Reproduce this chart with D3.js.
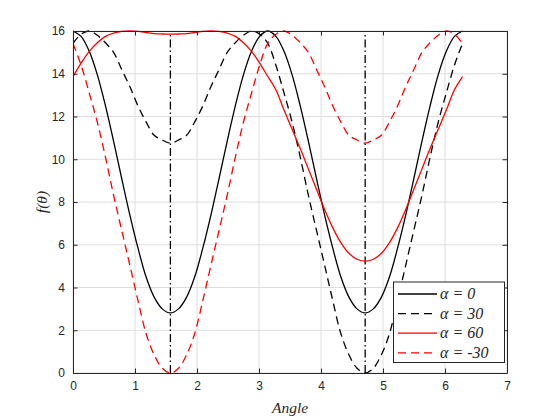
<!DOCTYPE html>
<html>
<head>
<meta charset="utf-8">
<script src="https://cdn.jsdelivr.net/npm/d3@7"></script>
<style>
  body { margin: 0; background: #fff; }
  svg { display: block; }
</style>
</head>
<body>
<svg id="fig" width="560" height="420"></svg>
<script>
// sample angles (rad), pi/24 steps from 0 to 2*pi
var angle = [0, 0.1309, 0.2618, 0.3927, 0.5236, 0.6545, 0.7854, 0.9163, 1.0472, 1.1781, 1.3090, 1.4399,
    1.5708, 1.7017, 1.8326, 1.9635, 2.0944, 2.2253, 2.3562, 2.4871, 2.6180, 2.7489, 2.8798, 3.0107,
    3.1416, 3.2725, 3.4034, 3.5343, 3.6652, 3.7961, 3.9270, 4.0579, 4.1888, 4.3197, 4.4506, 4.5815,
    4.7124, 4.8433, 4.9742, 5.1051, 5.2360, 5.3669, 5.4978, 5.6287, 5.7596, 5.8905, 6.0214, 6.1523, 6.2832];

// f(theta), one array per alpha
var alpha0 = [16, 15.75, 15.05, 13.95, 12.5, 10.85, 9.1, 7.4, 5.85, 4.5, 3.55, 3.0,
    2.81, 3.0, 3.55, 4.5, 5.85, 7.4, 9.1, 10.85, 12.5, 13.95, 15.05, 15.75,
    16, 15.75, 15.05, 13.95, 12.5, 10.85, 9.1, 7.4, 5.85, 4.5, 3.55, 3.0,
    2.81, 3.0, 3.55, 4.5, 5.85, 7.4, 9.1, 10.85, 12.5, 13.95, 15.05, 15.75, 16];

var alpha30 = [15.42, 15.85, 16.0, 15.8, 15.45, 15.0, 14.2, 13.4, 12.5, 11.75, 11.12, 10.9,
    10.75, 10.9, 11.12, 11.75, 12.5, 13.4, 14.2, 15.0, 15.45, 15.8, 16.0, 15.85,
    15.42, 14.4, 13.1, 11.73, 10.1, 8.32, 6.68, 5.05, 3.4, 1.85, 0.85, 0.22,
    0, 0.22, 0.85, 1.85, 3.4, 5.05, 6.68, 8.32, 10.1, 11.73, 13.1, 14.4, 15.42];

var alpha60 = [13.87, 14.5, 15.05, 15.45, 15.75, 15.9, 15.98, 16, 15.98, 15.93, 15.88, 15.86,
    15.85, 15.86, 15.88, 15.93, 15.98, 16, 15.98, 15.9, 15.75, 15.45, 15.05, 14.5,
    13.87, 13.25, 12.3, 11.4, 10.5, 9.55, 8.6, 7.65, 6.8, 6.1, 5.6, 5.32,
    5.23, 5.32, 5.6, 6.1, 6.8, 7.65, 8.6, 9.55, 10.5, 11.4, 12.3, 13.25, 13.87];

var alphaM30 = [15.42, 14.4, 13.1, 11.73, 10.1, 8.32, 6.68, 5.05, 3.4, 1.85, 0.85, 0.22,
    0, 0.22, 0.85, 1.85, 3.4, 5.05, 6.68, 8.32, 10.1, 11.73, 13.1, 14.4,
    15.42, 15.85, 16.0, 15.8, 15.45, 15.0, 14.2, 13.4, 12.5, 11.75, 11.12, 10.9,
    10.75, 10.9, 11.12, 11.75, 12.5, 13.4, 14.2, 15.0, 15.45, 15.8, 16.0, 15.85, 15.42];

var seriesNames = ['\u03b1 = 0', '\u03b1 = 30', '\u03b1 = 60', '\u03b1 = -30'];
var seriesValues = [alpha0, alpha30, alpha60, alphaM30];
var seriesColors = ['#000000', '#000000', '#ff0000', '#ff0000'];
var seriesDash = [null, '8,5', null, '8,5'];

// vertical dash-dot markers at pi/2 and 3*pi/2
var markerX = [1.5708, 4.7124];

var xTicks = [0, 1, 2, 3, 4, 5, 6, 7];
var yTicks = [0, 2, 4, 6, 8, 10, 12, 14, 16];

// plot box in pixels (note: "top" is taken by window.top)
var plotLeft = 73, plotRight = 507, plotTop = 31, plotBottom = 373;
var axisColor = '#262626';
var serif = '"Liberation Serif", "Times New Roman", serif';
var sans = '"Liberation Sans", Arial, Helvetica, sans-serif';

var svg = d3.select('#fig');

var x = d3.scaleLinear().domain([0, 7]).range([plotLeft, plotRight]);
var y = d3.scaleLinear().domain([0, 16]).range([plotBottom, plotTop]);

svg.append('rect')
    .attr('x', 0).attr('y', 0)
    .attr('width', 560).attr('height', 420)
    .attr('fill', '#fff');

// grid
var grid = svg.append('g').attr('stroke', '#dedede').attr('stroke-width', 1);
xTicks.forEach(function(t){
    grid.append('line')
        .attr('x1', x(t)).attr('x2', x(t))
        .attr('y1', plotTop).attr('y2', plotBottom);
});
yTicks.forEach(function(t){
    grid.append('line')
        .attr('x1', plotLeft).attr('x2', plotRight)
        .attr('y1', y(t)).attr('y2', y(t));
});

svg.append('clipPath').attr('id', 'plotClip')
    .append('rect')
    .attr('x', plotLeft).attr('y', plotTop - 1)
    .attr('width', plotRight - plotLeft).attr('height', plotBottom - plotTop + 2);

var plot = svg.append('g').attr('clip-path', 'url(#plotClip)');

// dash-dot lines
markerX.forEach(function(m){
    plot.append('line')
        .attr('x1', x(m)).attr('x2', x(m))
        .attr('y1', y(0)).attr('y2', y(16))
        .attr('stroke', '#000')
        .attr('stroke-width', 1.3)
        .attr('stroke-dasharray', '8,3,1.5,3');
});

var line = d3.line()
    .x(function(d){ return x(d[0]); })
    .y(function(d){ return y(d[1]); })
    .curve(d3.curveCatmullRom.alpha(0.5));

seriesValues.forEach(function(vals, i){
    var pts = angle.map(function(a, k){ return [a, vals[k]]; });
    plot.append('path')
        .datum(pts)
        .attr('d', line)
        .attr('fill', 'none')
        .attr('stroke', seriesColors[i])
        .attr('stroke-width', 1.3)
        .attr('stroke-dasharray', seriesDash[i]);
});

// axes, ticks pointing inward on all four sides
var fmt = d3.format('d');
var axisB = d3.axisBottom(x).tickValues(xTicks).tickSizeInner(-4.5).tickSizeOuter(0).tickPadding(8).tickFormat(fmt);
var axisT = d3.axisTop(x).tickValues(xTicks).tickSizeInner(-4.5).tickSizeOuter(0).tickFormat('');
var axisL = d3.axisLeft(y).tickValues(yTicks).tickSizeInner(-4.5).tickSizeOuter(0).tickPadding(8).tickFormat(fmt);
var axisR = d3.axisRight(y).tickValues(yTicks).tickSizeInner(-4.5).tickSizeOuter(0).tickFormat('');

function styleAxis(g){
    g.select('.domain').attr('stroke', axisColor).attr('stroke-width', 1);
    g.selectAll('.tick line').attr('stroke', axisColor).attr('stroke-width', 1);
    g.selectAll('.tick text')
        .attr('fill', axisColor)
        .style('font-family', sans)
        .style('font-size', '12px');
}

svg.append('g').attr('transform', 'translate(0,' + plotBottom + ')').call(axisB).call(styleAxis);
svg.append('g').attr('transform', 'translate(0,' + plotTop + ')').call(axisT).call(styleAxis);
svg.append('g').attr('transform', 'translate(' + plotLeft + ',0)').call(axisL).call(styleAxis);
svg.append('g').attr('transform', 'translate(' + plotRight + ',0)').call(axisR).call(styleAxis);

// labels
svg.append('text')
    .attr('x', (plotLeft + plotRight) / 2).attr('y', 413)
    .attr('text-anchor', 'middle')
    .attr('fill', axisColor)
    .style('font-family', serif)
    .style('font-style', 'italic')
    .style('font-size', '15.5px')
    .text('Angle');

svg.append('text')
    .attr('transform', 'translate(47,' + ((plotTop + plotBottom) / 2) + ') rotate(-90)')
    .attr('text-anchor', 'middle')
    .attr('fill', axisColor)
    .style('font-family', serif)
    .style('font-style', 'italic')
    .style('font-size', '15.5px')
    .text('f(\u03b8)');

// legend
var lg = svg.append('g');
lg.append('rect')
    .attr('x', 393.5).attr('y', 282)
    .attr('width', 111).attr('height', 80.5)
    .attr('fill', '#fff')
    .attr('stroke', axisColor)
    .attr('stroke-width', 1);

seriesNames.forEach(function(name, i){
    var ry = 294 + i * 19.6;
    lg.append('line')
        .attr('x1', 398).attr('x2', 437)
        .attr('y1', ry).attr('y2', ry)
        .attr('stroke', seriesColors[i])
        .attr('stroke-width', 1.3)
        .attr('stroke-dasharray', seriesDash[i]);
    lg.append('text')
        .attr('x', 440).attr('y', ry + 5)
        .attr('fill', axisColor)
        .style('font-family', serif)
        .style('font-style', 'italic')
        .style('font-size', '16px')
        .text(name);
});
</script>
</body>
</html>
